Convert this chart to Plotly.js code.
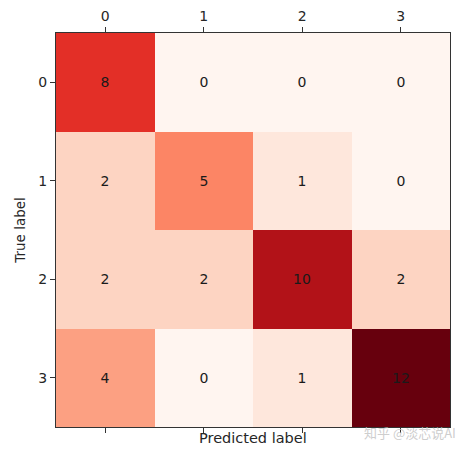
<!DOCTYPE html>
<html>
<head>
<meta charset="utf-8">
<script src="https://cdn.plot.ly/plotly-3.0.1.min.js"></script>
<style>html,body{margin:0;padding:0;background:#fff;}#chart{width:474px;height:451px;}</style>
</head>
<body>
<div id="chart"></div>
<script>
const predictedLabels = [0, 1, 2, 3];
const trueLabels = [0, 1, 2, 3];
const row0 = [8, 0, 0, 0];
const row1 = [2, 5, 1, 0];
const row2 = [2, 2, 10, 2];
const row3 = [4, 0, 1, 12];
const matrix = [row0, row1, row2, row3];

const redsScale = [
  [0.0, '#fff5f0'], [0.125, '#fee0d2'], [0.25, '#fcbba1'], [0.375, '#fc9272'],
  [0.5, '#fb6a4a'], [0.625, '#ef3b2c'], [0.75, '#cb181d'], [0.875, '#a50f15'], [1.0, '#67000d']
];

const font = {family: 'DejaVu Sans, sans-serif', size: 14, color: '#262626'};
const titleFont = {family: 'DejaVu Sans, sans-serif', size: 14, color: '#262626'};

const traces = [{
  type: 'heatmap',
  x: predictedLabels,
  y: trueLabels,
  z: matrix,
  zmin: 0, zmax: 12,
  colorscale: redsScale,
  showscale: false,
  texttemplate: '%{z}',
  textfont: {family: 'DejaVu Sans, sans-serif', size: 14, color: '#1a1a1a'},
  xgap: 0, ygap: 0,
  hoverinfo: 'skip'
}, {
  type: 'scatter', x: predictedLabels, y: trueLabels, xaxis: 'x2', yaxis: 'y',
  mode: 'markers', marker: {opacity: 0}, hoverinfo: 'skip', showlegend: false
}];

const layout = {
  width: 474, height: 451,
  margin: {l: 56, r: 24, t: 33, b: 24},
  paper_bgcolor: '#ffffff', plot_bgcolor: '#ffffff',
  font: font,
  showlegend: false,
  xaxis: {
    side: 'top', range: [-0.5, 3.5], tickvals: predictedLabels, ticktext: predictedLabels.map(String),
    ticks: 'outside', ticklen: 5, tickcolor: '#333', showgrid: false, zeroline: false,
    showline: true, linecolor: '#333', linewidth: 1, mirror: true, tickfont: font
  },
  xaxis2: {
    overlaying: 'x', side: 'bottom', anchor: 'y', range: [-0.5, 3.5], tickvals: predictedLabels,
    showticklabels: false, ticks: 'outside', ticklen: 5, tickcolor: '#333',
    showgrid: false, zeroline: false, showline: false
  },
  yaxis: {
    range: [3.5, -0.5], tickvals: trueLabels, ticktext: trueLabels.map(String),
    ticks: 'outside', ticklen: 5, tickcolor: '#333', showgrid: false, zeroline: false,
    showline: true, linecolor: '#333', linewidth: 1, mirror: true, tickfont: font,
    title: {text: 'True label', font: {family: 'DejaVu Sans, sans-serif', size: 13.5, color: '#262626'}, standoff: 9}
  },
  annotations: [
    {text: 'Predicted label', xref: 'paper', yref: 'paper', x: 0.5, y: 0, yanchor: 'top', yshift: -1,
     showarrow: false, font: {family: 'DejaVu Sans, sans-serif', size: 14.5, color: '#262626'}},
    {text: '知乎 @淡芯说AI', xref: 'paper', yref: 'paper', x: 1.02, y: 0, xanchor: 'right', yanchor: 'middle', yshift: -5,
     showarrow: false, font: {family: 'Noto Sans CJK SC, sans-serif', size: 13, color: 'rgba(200,200,200,0.9)'}}
  ]
};

Plotly.newPlot('chart', traces, layout, {displayModeBar: false, staticPlot: true});
</script>
</body>
</html>
